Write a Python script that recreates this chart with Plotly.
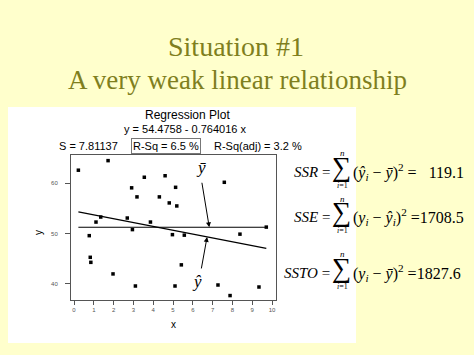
import plotly.graph_objects as go
import numpy as np

W, H = 474, 355

# ---- data ----
x_vals = [0.22, 1.72, 2.91, 3.55, 3.18, 4.31, 4.60, 1.35, 1.11, 2.69, 3.86, 2.95,
          0.77, 0.82, 0.85, 1.97, 3.10, 5.13, 4.81, 5.19, 7.59, 9.71, 4.97, 5.57,
          8.38, 5.42, 5.10, 7.27, 7.88, 9.34]
y_vals = [62.6, 64.5, 59.1, 61.2, 57.3, 57.3, 61.5, 53.3, 52.3, 53.1, 52.3, 50.8,
          49.6, 45.3, 44.3, 42.0, 39.6, 59.2, 56.1, 55.5, 60.2, 51.3, 49.8, 49.7,
          49.9, 43.8, 39.6, 39.8, 37.7, 39.4]
b0, b1 = 54.4758, -0.764016          # fitted line from the equation text
x_ticks = list(range(0, 11))
y_ticks = [40, 50, 60]
eq_names = ["SSR", "SSE", "SSTO"]
eq_terms = ["(<i>ŷ<sub>i</sub></i> − <i>ȳ</i>)<sup>2</sup> =\u00a0\u00a0\u00a0",
            "(<i>y<sub>i</sub></i> − <i>ŷ<sub>i</sub></i>)<sup>2</sup> =",
            "(<i>y<sub>i</sub></i> − <i>ȳ</i>)<sup>2</sup> ="]
eq_values = ["119.1", "1708.5", "1827.6"]

ybar = float(np.mean(y_vals))
xl = [min(x_vals), max(x_vals)]


def px(x):
    return x / W


def py(y):
    return 1 - y / H


fig = go.Figure()
fig.add_trace(go.Scatter(x=x_vals, y=y_vals, mode="markers",
                         marker=dict(symbol="square", size=3.5, color="black"),
                         showlegend=False))
fig.add_trace(go.Scatter(x=xl, y=[b0 + b1 * v for v in xl], mode="lines",
                         line=dict(color="black", width=1.2), showlegend=False))
fig.add_trace(go.Scatter(x=xl, y=[ybar, ybar], mode="lines",
                         line=dict(color="black", width=1.2), showlegend=False))

SANS = "Liberation Sans, Arial, sans-serif"
SERIF = "Liberation Serif, Times New Roman, serif"
OLIVE = "#7f7f1e"

ann = []
# slide titles
ann.append(dict(text="Situation #1", x=px(236), y=py(46), font=dict(family=SERIF, size=28, color=OLIVE)))
ann.append(dict(text="A very weak linear relationship", x=px(237), y=py(80), font=dict(family=SERIF, size=27, color=OLIVE)))
# minitab header
ann.append(dict(text="Regression Plot", x=px(187), y=py(115), font=dict(family=SANS, size=12, color="black")))
ann.append(dict(text="y = 54.4758 - 0.764016 x", x=px(185), y=py(129.5), font=dict(family=SANS, size=11, color="black")))
ann.append(dict(text="S = 7.81137", x=px(88), y=py(146), font=dict(family=SANS, size=11, color="black")))
ann.append(dict(text="R-Sq = 6.5 %", x=px(166), y=py(146), font=dict(family=SANS, size=11, color="black"),
                bordercolor="#777", borderwidth=1, borderpad=1))
ann.append(dict(text="R-Sq(adj) = 3.2 %", x=px(258), y=py(146), font=dict(family=SANS, size=11, color="black")))
# axis titles
ann.append(dict(text="x", x=px(173), y=py(324), font=dict(family=SANS, size=10, color="black")))
ann.append(dict(text="y", x=px(38), y=py(233), textangle=-90, font=dict(family=SANS, size=10, color="black")))
# plot labels
ann.append(dict(text="<i>ȳ</i>", x=px(201), y=py(167), font=dict(family=SERIF, size=17, color="black")))
ann.append(dict(text="<i>ŷ</i>", x=px(197), y=py(281), font=dict(family=SERIF, size=17, color="black")))

for a in ann:
    a.update(xref="paper", yref="paper", showarrow=False, xanchor=a.get("xanchor", "center"),
             yanchor="middle")

# arrows (data coords for heads)
ann.append(dict(x=6.83, y=ybar, xref="x", yref="y", text="", showarrow=True,
                ax=-7.6, ay=-46, arrowhead=2, arrowsize=1, arrowwidth=1, arrowcolor="black"))
x_h = 6.72
ann.append(dict(x=x_h, y=b0 + b1 * x_h, xref="x", yref="y", text="", showarrow=True,
                ax=-6, ay=33, arrowhead=2, arrowsize=1, arrowwidth=1, arrowcolor="black"))

# equations on the right
eq_y = [171.5, 217, 272.5]
for name, term, val, yc in zip(eq_names, eq_terms, eq_values, eq_y):
    base = dict(xref="paper", yref="paper", showarrow=False, yanchor="middle")
    ann.append(dict(base, text=f"<i>{name}</i> =", x=px(332), y=py(yc), xanchor="right",
                    font=dict(family=SERIF, size=15, color="black")))
    ann.append(dict(base, text="∑", x=px(341.5), y=py(yc - 5), xanchor="center",
                    font=dict(family=SERIF, size=27, color="black")))
    ann.append(dict(base, text="<i>n</i>", x=px(342), y=py(yc - 18.5), xanchor="center",
                    font=dict(family=SERIF, size=9, color="black")))
    ann.append(dict(base, text="<i>i</i>=1", x=px(342), y=py(yc + 13.5), xanchor="center",
                    font=dict(family=SERIF, size=8, color="black")))
    ann.append(dict(base, text=f"{term}{val}", x=px(351), y=py(yc), xanchor="left",
                    font=dict(family=SERIF, size=16, color="black")))

fig.update_layout(
    width=W, height=H, margin=dict(l=0, r=0, t=0, b=0),
    paper_bgcolor="#ffffcc", plot_bgcolor="white",
    annotations=ann,
    shapes=[dict(type="rect", xref="paper", yref="paper", x0=px(8), x1=px(356),
                 y0=py(343), y1=py(107), fillcolor="white", line=dict(width=0), layer="below")],
    xaxis=dict(domain=[px(71), px(276)], range=[-0.152, 10.2], tickvals=x_ticks,
               ticks="outside", ticklen=4, tickcolor="#555", showline=True, mirror=True,
               linecolor="#555", linewidth=1, showgrid=False, zeroline=False,
               tickfont=dict(family=SANS, size=6, color="#555")),
    yaxis=dict(domain=[py(300), py(155)], range=[36.82, 65.62], tickvals=y_ticks,
               ticks="outside", ticklen=5, tickcolor="#555", showline=True, mirror=True,
               linecolor="#555", linewidth=1, showgrid=False, zeroline=False,
               ticklabelstandoff=6, tickfont=dict(family=SANS, size=6, color="#555")),
)

fig.write_html("out.html")
